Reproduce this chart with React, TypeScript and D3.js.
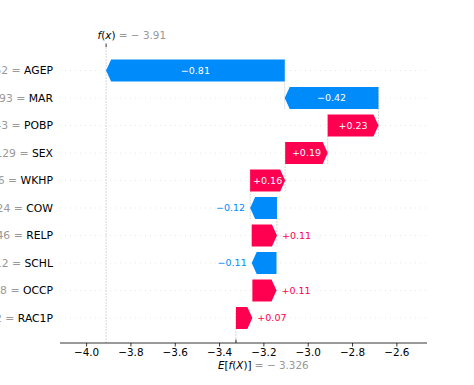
import React from "react";
import * as d3 from "d3";

// shap waterfall for one sample
const features = ["AGEP", "MAR", "POBP", "SEX", "WKHP", "COW", "RELP", "SCHL", "OCCP", "RAC1P"];
const featureValues = ["\u22120.852", "\u22120.893", "0.443", "1.129", "0.436", "\u22120.824", "\u22120.646", "0.112", "0.538", "\u22120.422"];
const shapValues = [-0.806, -0.423, 0.229, 0.192, 0.158, -0.121, 0.114, -0.112, 0.109, 0.074];
const baseValue = -3.326;
const xTicks = [-4.0, -3.8, -3.6, -3.4, -3.2, -3.0, -2.8, -2.6];

const W = 474;
const H = 385;
const RED = "#ff0051";
const BLUE = "#008bfb";
const FONT = "DejaVu Sans, sans-serif";

const fmt = (v: number) => (v < 0 ? "\u2212" : "") + Math.abs(v).toFixed(2);
const fmtSigned = (v: number) => (v < 0 ? "\u2212" : "+") + Math.abs(v).toFixed(2);

export default function App() {
  const x = d3.scaleLinear().domain([-4.12, -2.464]).range([60, 427]);
  const y = d3.scalePoint<string>().domain(features).range([70.5, 318]);
  const axisY = 343;
  const topY = 47;
  const rowStep = 27.5;
  const barH = rowStep * 0.8;
  const headLen = 5;

  // accumulate from the bottom (base value) upward
  const bars: { f: string; v: number; start: number; end: number; i: number }[] = [];
  let cum = baseValue;
  for (let i = features.length - 1; i >= 0; i--) {
    const start = cum;
    cum += shapValues[i];
    bars.push({ f: features[i], v: shapValues[i], start, end: cum, i });
  }
  const fx = cum;

  const arrowPath = (b: { start: number; end: number; f: string }) => {
    const x0 = x(b.start);
    const x1 = x(b.end);
    const cy = y(b.f)!;
    const t = cy - barH / 2;
    const bt = cy + barH / 2;
    const dir = x1 > x0 ? 1 : -1;
    const hl = Math.min(headLen, Math.abs(x1 - x0));
    const xh = x1 - dir * hl;
    return `M${x0},${t}L${xh},${t}L${x1},${cy}L${xh},${bt}L${x0},${bt}Z`;
  };

  return (
    <svg
      width={W}
      height={H}
      style={{ position: "absolute", left: 0, top: 0, background: "#fff" }}
      fontFamily={FONT}
    >
      {/* row guide lines */}
      {features.map((f) => (
        <line
          key={"g" + f}
          x1={60}
          x2={427}
          y1={y(f)}
          y2={y(f)}
          stroke="#cccccc"
          strokeWidth={0.5}
          strokeDasharray="1,4"
        />
      ))}

      {/* f(x) and E[f(X)] lines */}
      <line x1={x(fx)} x2={x(fx)} y1={topY} y2={axisY} stroke="#bbbbbb" strokeWidth={0.6} strokeDasharray="2,1" />
      <line x1={x(baseValue)} x2={x(baseValue)} y1={axisY - 30} y2={axisY} stroke="#bbbbbb" strokeWidth={0.6} strokeDasharray="2,1" />

      {/* connecting lines */}
      {bars
        .filter((b) => b.i + 4 < features.length)
        .map((b) => (
          <line
            key={"c" + b.f}
            x1={x(b.start)}
            x2={x(b.start)}
            y1={y(b.f)! - barH / 2}
            y2={y(b.f)! + rowStep + barH / 2}
            stroke="#bbbbbb"
            strokeWidth={0.6}
            strokeDasharray="2,1"
          />
        ))}

      {/* arrows */}
      {bars.map((b) => {
        const col = b.v >= 0 ? RED : BLUE;
        const w = Math.abs(x(b.end) - x(b.start));
        const label = fmtSigned(b.v);
        const tw = label.length * 5.7;
        const inside = w > tw + 4;
        const cy = y(b.f)!;
        return (
          <g key={"b" + b.f}>
            <path d={arrowPath(b)} fill={col} />
            {inside ? (
              <text
                x={(x(b.start) + x(b.end)) / 2}
                y={cy}
                dy="0.35em"
                textAnchor="middle"
                fontSize={9.5}
                fill="#fff"
              >
                {label}
              </text>
            ) : (
              <text
                x={x(b.end) + (b.v >= 0 ? 5 : -5)}
                y={cy}
                dy="0.35em"
                textAnchor={b.v >= 0 ? "start" : "end"}
                fontSize={9.5}
                fill={col}
              >
                {label}
              </text>
            )}
          </g>
        );
      })}

      {/* feature labels */}
      {features.map((f, i) => (
        <text key={"l" + f} x={53} y={y(f)} dy="0.35em" textAnchor="end" fontSize={10.8}>
          <tspan fill="#999999">{featureValues[i]} = </tspan>
          <tspan fill="#000">{f}</tspan>
        </text>
      ))}

      {/* bottom axis */}
      <line x1={60} x2={427} y1={axisY} y2={axisY} stroke="#000" strokeWidth={0.8} />
      {xTicks.map((t) => (
        <g key={"t" + t}>
          <line x1={x(t)} x2={x(t)} y1={axisY} y2={axisY + 3.5} stroke="#000" strokeWidth={0.8} />
          <text x={x(t)} y={axisY + 13} textAnchor="middle" fontSize={10.4} fill="#000">
            {fmt(t).replace(/(\.\d)0$/, "$1")}
          </text>
        </g>
      ))}
      <line x1={x(baseValue)} x2={x(baseValue)} y1={axisY - 3.5} y2={axisY} stroke="#000" strokeWidth={0.8} />
      <text x={x(baseValue) - 18} y={axisY + 26} fontSize={10.4}>
        <tspan fontStyle="italic">E</tspan>
        <tspan>[</tspan>
        <tspan fontStyle="italic">f</tspan>
        <tspan>(</tspan>
        <tspan fontStyle="italic">X</tspan>
        <tspan>)]</tspan>
        <tspan fill="#999999"> = {"\u2212"} {Math.abs(baseValue).toFixed(3)}</tspan>
      </text>

      {/* top f(x) tick */}
      <line x1={x(fx)} x2={x(fx)} y1={topY - 3.5} y2={topY} stroke="#000" strokeWidth={0.8} />
      <text x={x(fx) - 8.5} y={topY - 8} fontSize={10.4}>
        <tspan fontStyle="italic">f</tspan>
        <tspan>(</tspan>
        <tspan fontStyle="italic">x</tspan>
        <tspan>)</tspan>
        <tspan fill="#999999"> = {"\u2212"} {Math.abs(fx).toFixed(2)}</tspan>
      </text>
    </svg>
  );
}
